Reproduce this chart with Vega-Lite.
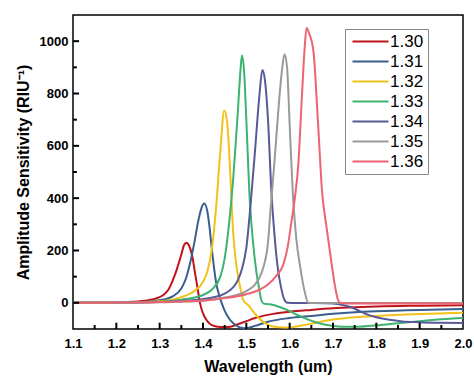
{
  "$schema": "https://vega.github.io/schema/vega-lite/v6.json",
  "autosize": "none",
  "width": 390,
  "height": 314,
  "padding": {"left": 73, "top": 15, "right": 11, "bottom": 52},
  "background": "white",
  "config": {
    "font": "Liberation Sans",
    "view": {"stroke": "black", "strokeWidth": 1.5}
  },
  "datasets": {
    "curves": [
      {"s":"1.30","w":1.10,"v":0},{"s":"1.30","w":1.15,"v":0},{"s":"1.30","w":1.20,"v":1},{"s":"1.30","w":1.24,"v":4},{"s":"1.30","w":1.27,"v":9},{"s":"1.30","w":1.29,"v":16},{"s":"1.30","w":1.31,"v":32},{"s":"1.30","w":1.32,"v":50},{"s":"1.30","w":1.33,"v":85},{"s":"1.30","w":1.34,"v":130},{"s":"1.30","w":1.35,"v":185},{"s":"1.30","w":1.356,"v":220},{"s":"1.30","w":1.362,"v":230},{"s":"1.30","w":1.368,"v":218},{"s":"1.30","w":1.375,"v":180},{"s":"1.30","w":1.382,"v":110},{"s":"1.30","w":1.388,"v":50},{"s":"1.30","w":1.393,"v":0},{"s":"1.30","w":1.40,"v":-40},{"s":"1.30","w":1.41,"v":-70},{"s":"1.30","w":1.42,"v":-85},{"s":"1.30","w":1.44,"v":-92},{"s":"1.30","w":1.46,"v":-92},{"s":"1.30","w":1.48,"v":-82},{"s":"1.30","w":1.50,"v":-70},{"s":"1.30","w":1.52,"v":-58},{"s":"1.30","w":1.55,"v":-46},{"s":"1.30","w":1.60,"v":-34},{"s":"1.30","w":1.65,"v":-27},{"s":"1.30","w":1.70,"v":-21},{"s":"1.30","w":1.75,"v":-17},{"s":"1.30","w":1.80,"v":-14},{"s":"1.30","w":1.90,"v":-11},{"s":"1.30","w":2.00,"v":-9},

      {"s":"1.31","w":1.10,"v":0},{"s":"1.31","w":1.20,"v":1},{"s":"1.31","w":1.25,"v":3},{"s":"1.31","w":1.30,"v":10},{"s":"1.31","w":1.33,"v":25},{"s":"1.31","w":1.35,"v":55},{"s":"1.31","w":1.36,"v":90},{"s":"1.31","w":1.37,"v":150},{"s":"1.31","w":1.38,"v":230},{"s":"1.31","w":1.39,"v":320},{"s":"1.31","w":1.397,"v":365},{"s":"1.31","w":1.403,"v":380},{"s":"1.31","w":1.41,"v":350},{"s":"1.31","w":1.415,"v":290},{"s":"1.31","w":1.42,"v":210},{"s":"1.31","w":1.425,"v":140},{"s":"1.31","w":1.43,"v":80},{"s":"1.31","w":1.437,"v":30},{"s":"1.31","w":1.443,"v":0},{"s":"1.31","w":1.45,"v":-30},{"s":"1.31","w":1.46,"v":-60},{"s":"1.31","w":1.47,"v":-78},{"s":"1.31","w":1.48,"v":-90},{"s":"1.31","w":1.49,"v":-96},{"s":"1.31","w":1.50,"v":-97},{"s":"1.31","w":1.52,"v":-88},{"s":"1.31","w":1.55,"v":-72},{"s":"1.31","w":1.60,"v":-58},{"s":"1.31","w":1.65,"v":-50},{"s":"1.31","w":1.70,"v":-42},{"s":"1.31","w":1.75,"v":-36},{"s":"1.31","w":1.80,"v":-32},{"s":"1.31","w":1.90,"v":-27},{"s":"1.31","w":2.00,"v":-24},

      {"s":"1.32","w":1.10,"v":0},{"s":"1.32","w":1.20,"v":1},{"s":"1.32","w":1.30,"v":6},{"s":"1.32","w":1.35,"v":22},{"s":"1.32","w":1.38,"v":45},{"s":"1.32","w":1.40,"v":80},{"s":"1.32","w":1.41,"v":120},{"s":"1.32","w":1.42,"v":200},{"s":"1.32","w":1.43,"v":360},{"s":"1.32","w":1.44,"v":580},{"s":"1.32","w":1.449,"v":735},{"s":"1.32","w":1.455,"v":700},{"s":"1.32","w":1.46,"v":590},{"s":"1.32","w":1.465,"v":420},{"s":"1.32","w":1.47,"v":260},{"s":"1.32","w":1.475,"v":170},{"s":"1.32","w":1.48,"v":110},{"s":"1.32","w":1.487,"v":50},{"s":"1.32","w":1.493,"v":10},{"s":"1.32","w":1.50,"v":-3},{"s":"1.32","w":1.505,"v":-10},{"s":"1.32","w":1.51,"v":-20},{"s":"1.32","w":1.52,"v":-42},{"s":"1.32","w":1.535,"v":-68},{"s":"1.32","w":1.55,"v":-84},{"s":"1.32","w":1.57,"v":-92},{"s":"1.32","w":1.60,"v":-94},{"s":"1.32","w":1.63,"v":-86},{"s":"1.32","w":1.66,"v":-76},{"s":"1.32","w":1.70,"v":-64},{"s":"1.32","w":1.75,"v":-55},{"s":"1.32","w":1.80,"v":-50},{"s":"1.32","w":1.90,"v":-43},{"s":"1.32","w":2.00,"v":-38},

      {"s":"1.33","w":1.10,"v":0},{"s":"1.33","w":1.20,"v":1},{"s":"1.33","w":1.30,"v":4},{"s":"1.33","w":1.35,"v":12},{"s":"1.33","w":1.40,"v":30},{"s":"1.33","w":1.42,"v":50},{"s":"1.33","w":1.44,"v":100},{"s":"1.33","w":1.45,"v":170},{"s":"1.33","w":1.46,"v":300},{"s":"1.33","w":1.47,"v":480},{"s":"1.33","w":1.48,"v":720},{"s":"1.33","w":1.487,"v":900},{"s":"1.33","w":1.49,"v":945},{"s":"1.33","w":1.495,"v":880},{"s":"1.33","w":1.50,"v":700},{"s":"1.33","w":1.507,"v":420},{"s":"1.33","w":1.515,"v":240},{"s":"1.33","w":1.523,"v":120},{"s":"1.33","w":1.53,"v":50},{"s":"1.33","w":1.535,"v":8},{"s":"1.33","w":1.54,"v":-3},{"s":"1.33","w":1.55,"v":-5},{"s":"1.33","w":1.56,"v":-7},{"s":"1.33","w":1.58,"v":-18},{"s":"1.33","w":1.60,"v":-32},{"s":"1.33","w":1.62,"v":-48},{"s":"1.33","w":1.64,"v":-62},{"s":"1.33","w":1.66,"v":-74},{"s":"1.33","w":1.68,"v":-83},{"s":"1.33","w":1.72,"v":-91},{"s":"1.33","w":1.76,"v":-91},{"s":"1.33","w":1.80,"v":-86},{"s":"1.33","w":1.85,"v":-78},{"s":"1.33","w":1.90,"v":-70},{"s":"1.33","w":1.95,"v":-63},{"s":"1.33","w":2.00,"v":-58},

      {"s":"1.34","w":1.10,"v":0},{"s":"1.34","w":1.20,"v":0},{"s":"1.34","w":1.30,"v":3},{"s":"1.34","w":1.40,"v":14},{"s":"1.34","w":1.45,"v":35},{"s":"1.34","w":1.47,"v":60},{"s":"1.34","w":1.48,"v":85},{"s":"1.34","w":1.49,"v":130},{"s":"1.34","w":1.50,"v":210},{"s":"1.34","w":1.51,"v":380},{"s":"1.34","w":1.52,"v":580},{"s":"1.34","w":1.53,"v":790},{"s":"1.34","w":1.537,"v":890},{"s":"1.34","w":1.543,"v":850},{"s":"1.34","w":1.55,"v":700},{"s":"1.34","w":1.558,"v":420},{"s":"1.34","w":1.565,"v":260},{"s":"1.34","w":1.572,"v":140},{"s":"1.34","w":1.58,"v":60},{"s":"1.34","w":1.587,"v":15},{"s":"1.34","w":1.595,"v":0},{"s":"1.34","w":1.62,"v":-1},{"s":"1.34","w":1.66,"v":-1},{"s":"1.34","w":1.70,"v":-3},{"s":"1.34","w":1.72,"v":-7},{"s":"1.34","w":1.74,"v":-16},{"s":"1.34","w":1.76,"v":-30},{"s":"1.34","w":1.78,"v":-45},{"s":"1.34","w":1.80,"v":-55},{"s":"1.34","w":1.83,"v":-65},{"s":"1.34","w":1.86,"v":-71},{"s":"1.34","w":1.90,"v":-74},{"s":"1.34","w":1.95,"v":-76},{"s":"1.34","w":2.00,"v":-77},

      {"s":"1.35","w":1.10,"v":0},{"s":"1.35","w":1.20,"v":0},{"s":"1.35","w":1.30,"v":2},{"s":"1.35","w":1.40,"v":8},{"s":"1.35","w":1.45,"v":20},{"s":"1.35","w":1.50,"v":45},{"s":"1.35","w":1.52,"v":70},{"s":"1.35","w":1.53,"v":95},{"s":"1.35","w":1.54,"v":140},{"s":"1.35","w":1.55,"v":230},{"s":"1.35","w":1.556,"v":360},{"s":"1.35","w":1.565,"v":540},{"s":"1.35","w":1.575,"v":760},{"s":"1.35","w":1.583,"v":900},{"s":"1.35","w":1.588,"v":950},{"s":"1.35","w":1.594,"v":900},{"s":"1.35","w":1.60,"v":680},{"s":"1.35","w":1.608,"v":400},{"s":"1.35","w":1.615,"v":250},{"s":"1.35","w":1.625,"v":130},{"s":"1.35","w":1.635,"v":40},{"s":"1.35","w":1.643,"v":0},{"s":"1.35","w":1.66,"v":-1},{"s":"1.35","w":1.80,"v":-1},{"s":"1.35","w":2.00,"v":-1},

      {"s":"1.36","w":1.10,"v":0},{"s":"1.36","w":1.20,"v":1},{"s":"1.36","w":1.30,"v":3},{"s":"1.36","w":1.40,"v":9},{"s":"1.36","w":1.45,"v":18},{"s":"1.36","w":1.50,"v":33},{"s":"1.36","w":1.53,"v":50},{"s":"1.36","w":1.55,"v":70},{"s":"1.36","w":1.57,"v":105},{"s":"1.36","w":1.585,"v":145},{"s":"1.36","w":1.595,"v":210},{"s":"1.36","w":1.605,"v":320},{"s":"1.36","w":1.612,"v":400},{"s":"1.36","w":1.62,"v":530},{"s":"1.36","w":1.628,"v":780},{"s":"1.36","w":1.634,"v":960},{"s":"1.36","w":1.639,"v":1050},{"s":"1.36","w":1.645,"v":1030},{"s":"1.36","w":1.655,"v":960},{"s":"1.36","w":1.665,"v":700},{"s":"1.36","w":1.675,"v":420},{"s":"1.36","w":1.685,"v":290},{"s":"1.36","w":1.695,"v":170},{"s":"1.36","w":1.703,"v":80},{"s":"1.36","w":1.71,"v":20},{"s":"1.36","w":1.716,"v":0},{"s":"1.36","w":1.73,"v":-3},{"s":"1.36","w":1.80,"v":-3},{"s":"1.36","w":2.00,"v":-3}
    ],
    "xmajor": [{"t":1.2},{"t":1.3},{"t":1.4},{"t":1.5},{"t":1.6},{"t":1.7},{"t":1.8},{"t":1.9}],
    "xminor": [{"t":1.15},{"t":1.25},{"t":1.35},{"t":1.45},{"t":1.55},{"t":1.65},{"t":1.75},{"t":1.85},{"t":1.95}],
    "ymajor": [{"t":0},{"t":200},{"t":400},{"t":600},{"t":800},{"t":1000}],
    "yminor": [{"t":100},{"t":300},{"t":500},{"t":700},{"t":900}]
  },
  "layer": [
    {
      "data": {"name": "curves"},
      "mark": {"type": "line", "strokeWidth": 2, "interpolate": "monotone", "clip": true},
      "encoding": {
        "x": {
          "field": "w", "type": "quantitative",
          "scale": {"domain": [1.1, 2.0], "nice": false, "zero": false},
          "axis": {
            "title": "Wavelength (um)",
            "values": [1.1,1.2,1.3,1.4,1.5,1.6,1.7,1.8,1.9,2.0],
            "format": ".1f",
            "grid": false,
            "ticks": false,
            "domain": false,
            "labelFontSize": 13, "labelFontWeight": "bold", "labelColor": "black",
            "labelPadding": 8, "labelFlush": false, "labelOverlap": false,
            "titleFontSize": 16, "titleFontWeight": "bold", "titleColor": "black", "titlePadding": 8
          }
        },
        "y": {
          "field": "v", "type": "quantitative",
          "scale": {"domain": [-100, 1100], "nice": false, "zero": false},
          "axis": {
            "title": "Amplitude Sensitivity (RIU⁻¹)",
            "values": [0,200,400,600,800,1000],
            "format": "d",
            "grid": false,
            "ticks": false,
            "domain": false,
            "labelFontSize": 13, "labelFontWeight": "bold", "labelColor": "black",
            "labelPadding": 5, "labelFlush": false, "labelOverlap": false,
            "titleFontSize": 16, "titleFontWeight": "bold", "titleColor": "black", "titlePadding": 8
          }
        },
        "color": {
          "field": "s", "type": "nominal",
          "scale": {
            "domain": ["1.30","1.31","1.32","1.33","1.34","1.35","1.36"],
            "range": ["#c0141c","#3a5f8e","#f2c21a","#3cb371","#575a96","#9a9a9a","#ec6470"]
          },
          "legend": {
            "title": null,
            "orient": "none",
            "legendX": 272,
            "legendY": 14,
            "symbolType": "M-1,0H6.2",
            "symbolSize": 100,
            "symbolStrokeWidth": 2,
            "labelFontSize": 17,
            "labelColor": "black",
            "labelOffset": 24,
            "rowPadding": 2,
            "padding": 4,
            "strokeColor": "#888888",
            "fillColor": "white"
          }
        }
      }
    },
    {
      "data": {"name": "xmajor"},
      "mark": {"type": "rule", "color": "black", "strokeWidth": 2},
      "encoding": {
        "x": {"field": "t", "type": "quantitative"},
        "y": {"datum": -100},
        "y2": {"datum": -76}
      }
    },
    {
      "data": {"name": "xminor"},
      "mark": {"type": "rule", "color": "black", "strokeWidth": 2},
      "encoding": {
        "x": {"field": "t", "type": "quantitative"},
        "y": {"datum": -100},
        "y2": {"datum": -85}
      }
    },
    {
      "data": {"name": "ymajor"},
      "mark": {"type": "rule", "color": "black", "strokeWidth": 2},
      "encoding": {
        "y": {"field": "t", "type": "quantitative"},
        "x": {"datum": 1.1},
        "x2": {"datum": 1.114}
      }
    },
    {
      "data": {"name": "yminor"},
      "mark": {"type": "rule", "color": "black", "strokeWidth": 2},
      "encoding": {
        "y": {"field": "t", "type": "quantitative"},
        "x": {"datum": 1.1},
        "x2": {"datum": 1.109}
      }
    }
  ]
}
